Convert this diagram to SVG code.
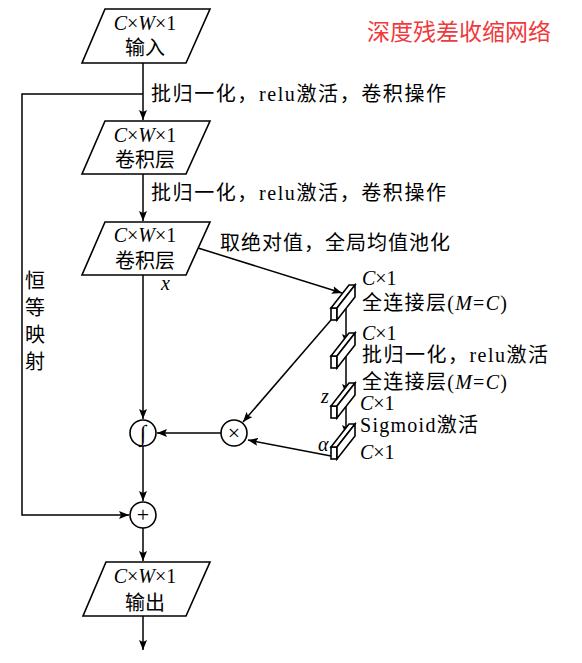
<svg xmlns="http://www.w3.org/2000/svg" width="582" height="663" viewBox="0 0 582 663">
<style>
.ln{fill:none;stroke:#000;stroke-width:1.5}
.bx{fill:#fff;stroke:#000;stroke-width:1.6}
.t{font-family:"Liberation Serif","Noto Sans CJK SC",serif;font-size:20px;fill:#000}
.tm{font-family:"Liberation Serif","Noto Sans CJK SC",serif;font-size:20px;fill:#000;text-anchor:middle}
.i{font-style:italic}
.sym{font-family:"Liberation Serif","DejaVu Serif",serif;fill:#000;text-anchor:middle}
.title{font-family:"Noto Sans CJK SC","Noto Sans",sans-serif;font-size:23px;fill:#ef3a3d}
</style>
<defs>
<marker id="ah" markerUnits="userSpaceOnUse" markerWidth="11" markerHeight="8" refX="10" refY="4" orient="auto">
<path d="M0,0 L10,4 L0,8 L2,4 z" fill="#000"/>
</marker>
<g id="bar">
<rect x="0" y="0" width="6" height="12" class="bx"/>
<path d="M0,0 L18,-23 L24,-23 L6,0 z" class="bx"/>
<path d="M6,0 L24,-23 L24,-11 L6,12 z" class="bx"/>
</g>
</defs>

<text id="title" class="title" x="367" y="40">深度残差收缩网络</text>

<g id="connectors">
<line class="ln" x1="143" y1="63" x2="143" y2="120" marker-end="url(#ah)"/>
<line class="ln" x1="143" y1="174" x2="143" y2="221" marker-end="url(#ah)"/>
<line class="ln" x1="143" y1="275" x2="143" y2="419" marker-end="url(#ah)"/>
<line class="ln" x1="143" y1="446" x2="143" y2="501" marker-end="url(#ah)"/>
<line class="ln" x1="143" y1="528" x2="143" y2="561" marker-end="url(#ah)"/>
<line class="ln" x1="143" y1="616" x2="143" y2="650" marker-end="url(#ah)"/>
<polyline class="ln" points="143,94 22,94 22,515 129,515" marker-end="url(#ah)"/>
<line class="ln" x1="198" y1="248" x2="342" y2="293" marker-end="url(#ah)"/>
<line class="ln" x1="346" y1="308.5" x2="346" y2="344" marker-end="url(#ah)"/>
<line class="ln" x1="346" y1="356.5" x2="346" y2="394" marker-end="url(#ah)"/>
<line class="ln" x1="346" y1="406.5" x2="346" y2="435" marker-end="url(#ah)"/>
<line class="ln" x1="331" y1="320" x2="243" y2="422" marker-end="url(#ah)"/>
<line class="ln" x1="331" y1="456" x2="248" y2="440" marker-end="url(#ah)"/>
<line class="ln" x1="221" y1="433" x2="157" y2="433" marker-end="url(#ah)"/>
</g>

<g id="input">
<polygon class="bx" points="105,9 210,9 186,63 82,63"/>
<text class="tm" x="145" y="30"><tspan class="i">C</tspan>×<tspan class="i">W</tspan>×1</text>
<text class="tm" x="145" y="55">输入</text>
</g>
<g id="conv1">
<polygon class="bx" points="105,121 210,121 186,174 82,174"/>
<text class="tm" x="145" y="142"><tspan class="i">C</tspan>×<tspan class="i">W</tspan>×1</text>
<text class="tm" x="145" y="167">卷积层</text>
</g>
<g id="conv2">
<polygon class="bx" points="105,222 210,222 186,275 82,275"/>
<text class="tm" x="145" y="242"><tspan class="i">C</tspan>×<tspan class="i">W</tspan>×1</text>
<text class="tm" x="145" y="268">卷积层</text>
</g>
<g id="output">
<polygon class="bx" points="106,562 210,562 186,616 83,616"/>
<text class="tm" x="145" y="583"><tspan class="i">C</tspan>×<tspan class="i">W</tspan>×1</text>
<text class="tm" x="145" y="610">输出</text>
</g>

<g id="labels">
<text class="t" x="151" y="101" textLength="295" lengthAdjust="spacing">批归一化，relu激活，卷积操作</text>
<text class="t" x="151" y="200" textLength="295" lengthAdjust="spacing">批归一化，relu激活，卷积操作</text>
<text class="t" x="220" y="250" textLength="230" lengthAdjust="spacing">取绝对值，全局均值池化</text>
<text class="t i" x="161" y="290">x</text>
<text class="tm" x="35" y="288">恒</text>
<text class="tm" x="35" y="315">等</text>
<text class="tm" x="35" y="342">映</text>
<text class="tm" x="35" y="369">射</text>
</g>

<g id="bar1"><use href="#bar" x="331" y="308"/></g>
<g id="bar2"><use href="#bar" x="331" y="356"/></g>
<g id="bar3"><use href="#bar" x="331" y="406"/></g>
<g id="bar4"><use href="#bar" x="331" y="447"/></g>

<g id="right-labels">
<text class="t" x="362" y="285"><tspan class="i">C</tspan>×1</text>
<text class="t" x="362" y="310" textLength="145" lengthAdjust="spacing">全连接层(<tspan class="i">M</tspan>=<tspan class="i">C</tspan>)</text>
<text class="t" x="362" y="340"><tspan class="i">C</tspan>×1</text>
<text class="t" x="362" y="362" textLength="186" lengthAdjust="spacing">批归一化，relu激活</text>
<text class="t" x="362" y="389" textLength="145" lengthAdjust="spacing">全连接层(<tspan class="i">M</tspan>=<tspan class="i">C</tspan>)</text>
<text class="t" x="360" y="410"><tspan class="i">C</tspan>×1</text>
<text class="t" x="360" y="432" textLength="118" lengthAdjust="spacing">Sigmoid激活</text>
<text class="t" x="360" y="459"><tspan class="i">C</tspan>×1</text>
<text class="t i" x="321" y="403">z</text>
<text class="t i" x="318" y="451">α</text>
</g>

<g id="integral">
<circle class="bx" cx="143" cy="433" r="13"/>
<text class="sym" x="143" y="441" style="font-size:23px">∫</text>
</g>
<g id="multiply">
<circle class="bx" cx="234" cy="433" r="13"/>
<text class="sym" x="234" y="440" style="font-size:22px">×</text>
</g>
<g id="add">
<circle class="bx" cx="143" cy="515" r="13"/>
<text class="sym" x="143" y="522" style="font-size:22px">+</text>
</g>
</svg>
